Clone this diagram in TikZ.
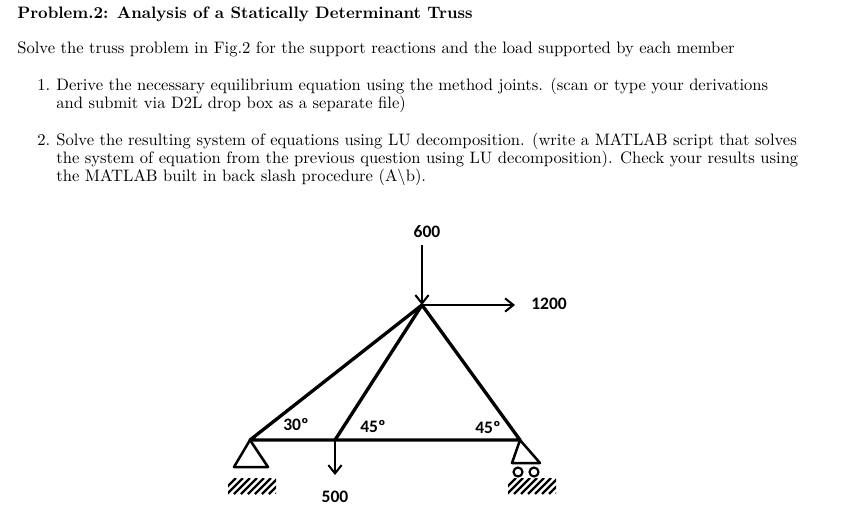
\documentclass[tikz,border=0pt]{standalone}
\usepackage{fontspec}
\newfontfamily\lab{Carlito}
\usetikzlibrary{arrows.meta}
\begin{document}
\begin{tikzpicture}[x=0.6pt,y=-0.6pt,
  txt/.style={anchor=base west,inner sep=0pt,font=\fontsize{9.95}{12}\selectfont},
  mem/.style={line width=2pt},
  lbl/.style={font=\lab\bfseries\fontsize{10.5}{12}\selectfont,inner sep=0pt},
  hatch/.style={line width=1.3pt},
  ld/.style={line width=1.2pt,-{Straight Barb[length=5pt,width=8pt]}}]
\useasboundingbox (0,0) rectangle (858,514);
\fill[white] (0,0) rectangle (858,514);
\node[txt] (t0) at (17,19) {\textbf{Problem.2: Analysis of a Statically Determinant Truss}};
\node[txt] (t1) at (17,54) {Solve the truss problem in Fig.2 for the support reactions and the load supported by each member};
\node[txt] (n1) at (37,91) {1.};
\node[txt] (t2) at (56,91) {Derive the necessary equilibrium equation using the method joints. (scan or type your derivations};
\node[txt] (t3) at (56,109) {and submit via D2L drop box as a separate file)};
\node[txt] (n2) at (37,145) {2.};
\node[txt] (t4) at (56,145) {Solve the resulting system of equations using LU decomposition. (write a MATLAB script that solves};
\node[txt] (t5) at (56,163) {the system of equation from the previous question using LU decomposition). Check your results using};
\node[txt] (t6) at (56,181) {the MATLAB built in back slash procedure (A\textbackslash b).};
% truss
\coordinate (A) at (250,440);
\coordinate (B) at (335,440);
\coordinate (C) at (520,440);
\coordinate (D) at (422,305);
\draw[mem,line join=round] (A) -- (C) -- (D) -- cycle;
\draw[mem] (B) -- (D);
% loads
\coordinate (p6) at (422,245);
\coordinate (p12) at (515,305);
\coordinate (p5) at (335,475);
\draw[ld] (p6) -- (D);
\draw[ld] (D) -- (p12);
\draw[ld] (B) -- (p5);
\node[lbl] (l6) at (427,232) {600};
\node[lbl] (l12) at (549,304) {1200};
\node[lbl] (l5) at (335,497) {500};
\node[lbl] (a1) at (296,425) {30º};
\node[lbl] (a2) at (373,427) {45º};
\node[lbl] (a3) at (488,428) {45º};
% supports
\draw[line width=1.5pt,line join=round] (A) -- (234,467) -- (268,467) -- cycle;
\begin{scope}
\clip (228,478) rectangle (276,494);
\foreach \i in {220,227,...,290} \draw[hatch] (\i,494) -- (\i+16,478);
\end{scope}
\draw[line width=1.5pt,line join=round] (C) -- (512,463) -- (540,463) -- cycle;
\draw[line width=1.3pt] (518,472) circle (4.5) (534,472) circle (4.5);
\begin{scope}
\clip (508,478) rectangle (556,494);
\foreach \i in {500,507,...,570} \draw[hatch] (\i,494) -- (\i+16,478);
\end{scope}
\end{tikzpicture}
\end{document}
